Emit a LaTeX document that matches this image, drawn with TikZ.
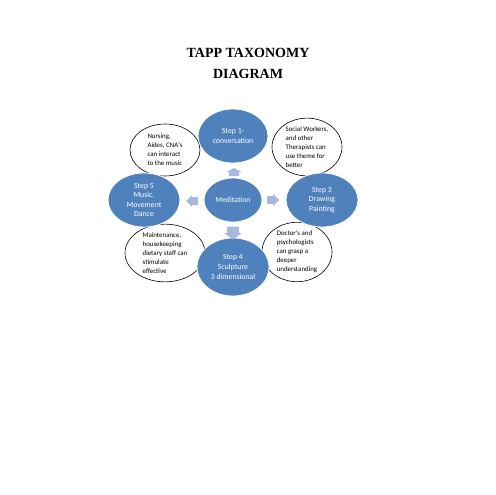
\documentclass[tikz,border=0pt]{standalone}
\usepackage{fontspec}
\setmainfont{Liberation Serif}
\newfontfamily\smartfont{Carlito}
\usepackage{tikz}
\usetikzlibrary{positioning, shapes.geometric, arrows}

\definecolor{stageblue}{HTML}{4F81BD}
\definecolor{arrowblue}{HTML}{A7B9DF}

\begin{document}
\begin{tikzpicture}[x=1pt, y=-1pt,
													stage/.style={ellipse, fill=stageblue, draw=white, line width=0.8pt, text=white, align=center, inner sep=0pt, font=\smartfont\fontsize{7.8}{9.6}\selectfont},
													note/.style={ellipse, draw=black, fill=white, line width=0.6pt, align=left, inner sep=0pt, font=\smartfont\fontsize{6.9}{9}\selectfont},
													flow/.style={fill=arrowblue, draw=none}]

			  \useasboundingbox (0,0) rectangle (495,495);

			  % title
			  \node[font=\bfseries\fontsize{14}{21}\selectfont, align=center] (T) at (248,63) {TAPP TAXONOMY\\DIAGRAM};

			  % notes behind the stages
			  \node[note, minimum width=70pt, minimum height=52pt] (N1) at (165,150) {Nursing,\\Aides, CNA's\\can interact\\to the music};
			  \node[note, minimum width=70pt, minimum height=56pt] (N2) at (307,147) {Social Workers,\\and other\\Therapists can\\use theme for\\better};
			  \node[note, minimum width=80pt, minimum height=56pt] (N3) at (165,253) {Maintenance,\\housekeeping\\dietary staff can\\stimulate\\effective};
			  \node[note, minimum width=70pt, minimum height=58pt] (N4) at (297,252) {Doctor's and\\psychologists\\can grasp a\\deeper\\understanding};

			  % stages
			  \node[stage, minimum width=58pt, minimum height=44pt] (M)  at (233,200) {Meditation};
			  \node[stage, minimum width=70pt, minimum height=54pt] (S1) at (233,136) {Step 1-\\conversation};
			  \node[stage, minimum width=72pt, minimum height=54pt] (S3) at (322,200) {Step 3\\Drawing\\Painting};
			  \node[stage, minimum width=72pt, minimum height=58pt] (S4) at (233,267) {Step 4\\Sculpture\\3 dimensional};
			  \node[stage, minimum width=72pt, minimum height=54pt] (S5) at (144,200) {Step 5\\Music,\\Movement\\Dance};

			  % block arrows out of the hub
			  \foreach \cx/\cy/\ang/\l/\w in {273/200/0/6/6, 192/201/180/6/6, 234/172/90/4/7.5, 233/233/270/6.5/9}
			    \fill[flow, shift={(\cx,\cy)}, rotate=\ang]
			      (-\l,{-0.65*\w}) -- (0,{-0.65*\w}) -- (0,-\w) -- (\l,0) -- (0,\w) -- (0,{0.65*\w}) -- (-\l,{0.65*\w}) -- cycle;

			\end{tikzpicture}
\end{document}
